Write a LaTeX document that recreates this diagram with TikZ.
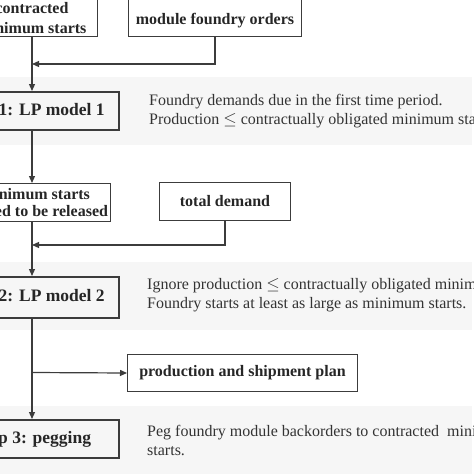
\documentclass[tikz,border=0pt]{standalone}
\usepackage{fontspec}
\setmainfont{Liberation Serif}
\usetikzlibrary{arrows.meta}
\definecolor{ink}{HTML}{3C3C3C}
\definecolor{band}{HTML}{F6F6F6}

\begin{document}
\begin{tikzpicture}[x=1pt, y=-1pt,
        inbox/.style={draw=ink, line width=1pt, text=black!85, align=center,
            font=\fontsize{16}{20}\selectfont\bfseries, inner xsep=0pt, inner ysep=0pt},
        stepbox/.style={draw=ink, line width=2pt, text=black!85, minimum width=172pt,
            font=\fontsize{17.5}{20}\selectfont\bfseries, anchor=east},
        note/.style={font=\fontsize{16}{19}\selectfont, text=black!80, align=left,
            anchor=west, inner sep=0pt},
        arr/.style={draw=ink, line width=1.2pt, -{Triangle[length=7pt,width=6pt]}}]
        \useasboundingbox (0,0) rectangle (474,474);
        \clip (0,0) rectangle (474,474);

        % shaded bands behind the steps
        \fill[band] (0,77) rectangle (472,145);
        \fill[band] (0,262) rectangle (472,330);
        \fill[band] (0,406) rectangle (472,480);

        \node[inbox, anchor=south east, minimum width=131pt] (A) at (98,37)
            {\rule{0pt}{26pt}contracted\\minimum starts\rule[-3pt]{0pt}{3pt}};
        \node[inbox, anchor=south west, minimum width=173pt, text height=32pt, text depth=12pt] (B)
            at (128,37) {module foundry orders};
        \node[stepbox, minimum height=38pt] (s1) at (120,111) {Step 1: LP model 1};
        \node[note] (n1) at (149,111.5)
            {Foundry demands due in the first time period.\\
             Production $\leq$ contractually obligated minimum starts.};

        \node[inbox, anchor=south east, minimum width=150pt, minimum height=38pt,
            font=\fontsize{16}{17}\selectfont\bfseries] (C) at (111,222)
            {minimum starts\\needed to be released};
        \node[inbox, anchor=south west, minimum width=131pt, minimum height=38pt] (D) at (159,221)
            {total demand};
        \node[stepbox, minimum height=41pt] (s2) at (120,297.5) {Step 2: LP model 2};
        \node[note] (n2) at (147,295.5)
            {Ignore production $\leq$ contractually obligated minimum starts.\\
             Foundry starts at least as large as minimum starts.};

        \node[inbox, anchor=north west, minimum width=230pt, minimum height=37pt] (E) at (127,354)
            {production and shipment plan};
        \node[stepbox, minimum height=38pt] (s3) at (120,439) {Step 3: pegging};
        \node[note] (n3) at (147,440.5)
            {Peg foundry module backorders to contracted\ \ minimum\\starts.};

        \coordinate (j1) at (32,64);
        \coordinate (j2) at (32,245);
        \coordinate (j3) at (32,372.5);

        \draw[arr] (A.south -| j1) -- (s1.north -| j1);
        \draw[arr] (B.south) |- (j1);
        \draw[arr] (s1.south -| j1) -- (C.north -| j1);
        \draw[arr] (D.south) |- (j2);
        \draw[arr] (C.south -| j2) -- (s2.north -| j2);
        \draw[arr] (s2.south -| j3) -- (s3.north -| j3);
        \draw[arr] (j3) -- (E.west);
    \end{tikzpicture}
\end{document}
